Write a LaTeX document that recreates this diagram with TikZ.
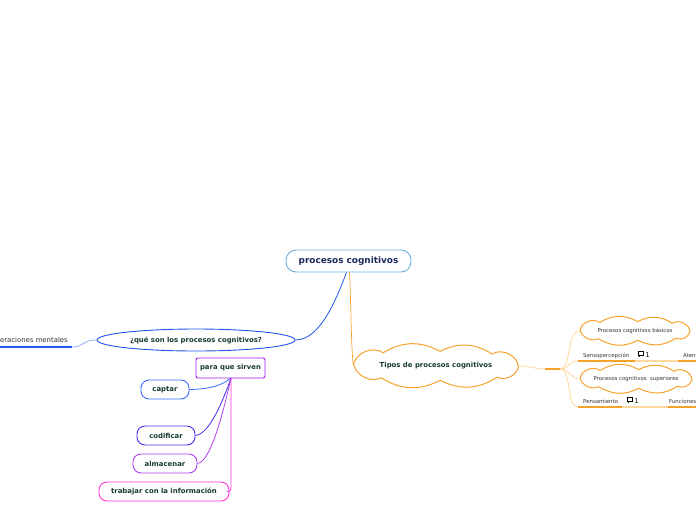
\documentclass[tikz,border=0pt]{standalone}
\usepackage{fontspec}
\setmainfont{DejaVu Sans}
\usetikzlibrary{shapes.geometric}
\definecolor{rootline}{HTML}{6AAEDC}
\definecolor{roottext}{HTML}{1B2A5A}
\definecolor{lbl}{HTML}{163C2C}
\definecolor{bl}{HTML}{2155F0}
\definecolor{lbl2}{HTML}{8FB0F5}
\definecolor{capc}{HTML}{3A6BFF}
\definecolor{codc}{HTML}{4A2BEE}
\definecolor{almc}{HTML}{B23CF0}
\definecolor{trac}{HTML}{FF33D6}
\definecolor{psc}{HTML}{A21CF0}
\definecolor{org}{HTML}{F6A22A}
\definecolor{lorg}{HTML}{FFD8A0}
\definecolor{grey}{HTML}{333333}
\tikzset{
  rootbox/.style={draw=rootline, line width=0.9pt, rounded corners=10pt, fill=white, minimum width=125pt, minimum height=22pt, inner sep=0pt, font=\fontsize{8.9}{10}\selectfont\bfseries, text=roottext},
  leafbox/.style={line width=0.9pt, rounded corners=8pt, fill=white, minimum height=19pt, inner sep=0pt, font=\fontsize{6.9}{8}\selectfont\bfseries, text=lbl},
  psbox/.style={draw=psc, line width=0.9pt, rounded corners=2pt, fill=white, minimum width=69pt, minimum height=20pt, inner sep=0pt, font=\fontsize{6.9}{8}\selectfont\bfseries, text=lbl},
  cloudbox/.style={inner sep=0pt},
  cloudline/.style={draw=org, line width=1pt},
  small/.style={font=\fontsize{5.4}{6}\selectfont, text=grey, inner sep=0pt},
  conn/.style={line width=0.8pt},
  uline/.style={line width=2pt},
}
\newcommand{\mycloud}[3]{%
 \begin{scope}[shift={(#1.center)}, x=#2pt, y=-#3pt]
 \draw[cloudline] (-1,-0.1) to[bend left=55] (-0.64,-0.78) to[bend left=30] (0.05,-0.86) to[bend left=30] (0.68,-0.7) to[bend left=60] (1,0.05) to[bend left=50] (0.74,0.66) to[bend left=30] (0.05,0.84) to[bend left=30] (-0.66,0.7) to[bend left=50] (-1,-0.1);
 \end{scope}}
\begin{document}
\begin{tikzpicture}[x=1pt,y=-1pt]
\useasboundingbox (0,0) rectangle (696,520);

% root
\node[rootbox] (root) at (348.5,261) {procesos cognitivos};

% question ellipse
\node[ellipse, draw=bl, line width=0.9pt, fill=white, minimum width=198pt, minimum height=22pt, inner sep=0pt, font=\fontsize{6.9}{8}\selectfont\bfseries, text=lbl] (q) at (196,340) {¿qué son los procesos cognitivos?};
\draw[conn, bl] (root.south) ++(-2,0) coordinate (rs1) .. controls (336,300) and (320,340) .. (q.east);

% operaciones mentales
\node[anchor=base east, font=\fontsize{6.9}{8}\selectfont, text=grey, inner sep=0pt] (om) at (68,342) {operaciones mentales};
\coordinate (ul0) at (0,347);
\coordinate (ul1) at (72,347);
\draw[uline, bl] (ul0) -- (ul1);
\draw[conn, lbl2] (ul1) .. controls (84,347) and (82,340) .. (q.west);

% para que sirven
\node[psbox] (ps) at (230.5,368) {para que sirven};
\coordinate (pb) at (231,378);
\node[leafbox, draw=capc, minimum width=48pt] (cap) at (165,389.5) {captar};
\node[leafbox, draw=codc, minimum width=58pt] (cod) at (166,435.5) {codificar};
\node[leafbox, draw=almc, minimum width=64pt] (alm) at (165,463.5) {almacenar};
\node[leafbox, draw=trac, minimum width=130pt] (tra) at (164,491.5) {trabajar con la información};
\draw[conn, capc] (cap.east) .. controls (212,389) and (222,385) .. (pb);
\draw[conn, codc] (cod.east) .. controls (210,434) and (224,398) .. (pb);
\draw[conn, almc] (alm.east) .. controls (212,462) and (226,400) .. (pb);
\draw[conn, trac, rounded corners=3pt] (tra.east) -- (231,491.5) -- (pb);

% tipos
\node[cloudbox, minimum width=165pt, minimum height=34pt, font=\fontsize{6.9}{8}\selectfont\bfseries, text=lbl] (tc) at (436,366) {Tipos de procesos cognitivos};
\mycloud{tc}{82.5}{17}
\draw[conn, org, line width=0.7pt] (root.south) ++(1,0) coordinate (rs2) .. controls (351,300) and (351,345) .. (tc.west);

\coordinate (j1) at (545,369);
\coordinate (j2) at (560,369);
\draw[conn, lorg] (tc.east) .. controls (530,366) and (535,369) .. (j1);
\draw[uline, org] (j1) -- (j2);

\node[cloudbox, minimum width=110pt, minimum height=22pt, small] (cb) at (635,331) {Procesos cognitivos básicos};
\mycloud{cb}{55}{11}
\node[cloudbox, minimum width=112pt, minimum height=22pt, small] (cs) at (636,379) {Procesos cognitivos\ \ superiores};
\mycloud{cs}{56}{11}

\coordinate (s0) at (578,361);
\coordinate (s1) at (635,361);
\coordinate (s2) at (678,361);
\coordinate (s3) at (696,361);
\coordinate (p0) at (578,407);
\coordinate (p1) at (622,407);
\coordinate (p2) at (668,407);
\coordinate (p3) at (696,407);

\draw[conn, lorg] (j2) .. controls (572,369) and (566,331) .. (cb.west);
\draw[conn, lorg] (j2) .. controls (570,369) and (568,361) .. (s0);
\draw[conn, lorg] (j2) .. controls (570,369) and (570,379) .. (cs.west);
\draw[conn, lorg] (j2) .. controls (572,369) and (566,407) .. (p0);

\draw[uline, org] (s0) -- (s1);
\draw[uline, lorg] (s1) -- (s2);
\draw[uline, org] (s2) -- (s3);
\draw[uline, org] (p0) -- (p1);
\draw[uline, lorg] (p1) -- (p2);
\draw[uline, org] (p2) -- (p3);

\node[small, anchor=base west] (sp) at (583,357) {Sensopercepción};
\node[small, anchor=base west] (at) at (683,357) {Atención};
\node[small, anchor=base west] (pe) at (583,403) {Pensamiento};
\node[small, anchor=base west] (fu) at (669,403) {Funciones ejecutivas};

% comment icons
\draw[line width=0.8pt, black] (638.5,351.5) rectangle (643.5,355) ;
\draw[line width=0.8pt, black] (640,355) -- (639,357);
\node[font=\fontsize{6.5}{7}\selectfont, inner sep=0pt, anchor=base west] (c1) at (645.5,357) {1};
\draw[line width=0.8pt, black] (627.5,397.5) rectangle (632.5,401) ;
\draw[line width=0.8pt, black] (629,401) -- (628,403);
\node[font=\fontsize{6.5}{7}\selectfont, inner sep=0pt, anchor=base west] (c2) at (634.5,403) {1};
\end{tikzpicture}
\end{document}
